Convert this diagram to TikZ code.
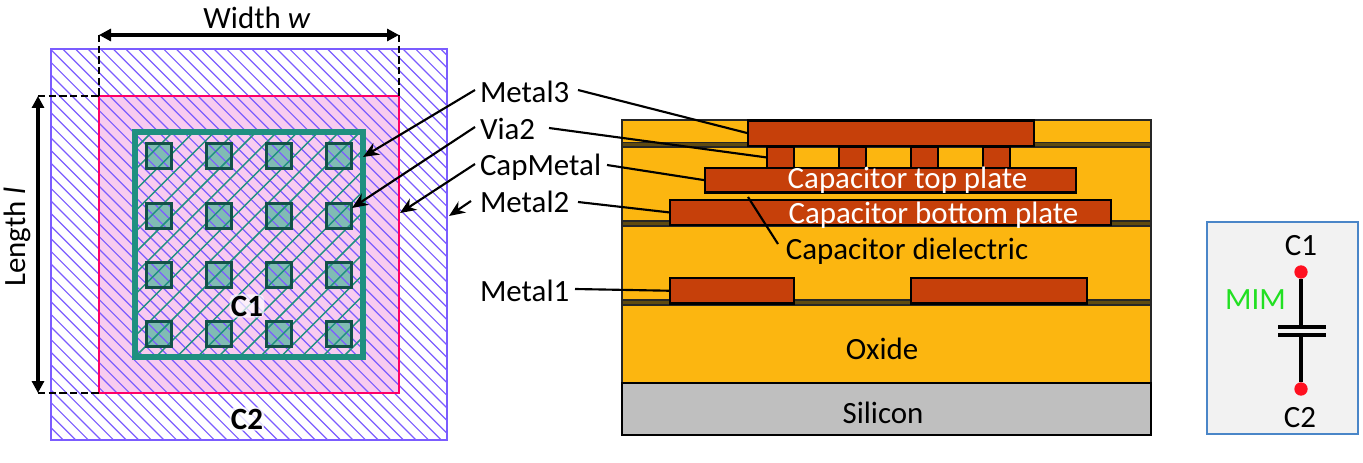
\documentclass[tikz,border=0pt]{standalone}
\usepackage{fontspec}
\setmainfont{Carlito}
\usetikzlibrary{arrows.meta,calc}
\definecolor{purp}{HTML}{7B5CFF}
\definecolor{pinkl}{HTML}{F8CCF0}
\definecolor{pinkd}{HTML}{FF0066}
\definecolor{grn}{HTML}{1F9080}
\definecolor{viaf}{HTML}{80BCB4}
\definecolor{viad}{HTML}{135248}
\definecolor{oxd}{HTML}{FCB610}
\definecolor{met}{HTML}{C6400A}
\definecolor{brn}{HTML}{5F4A10}
\definecolor{sil}{HTML}{BFBFBF}
\definecolor{boxb}{HTML}{4A86C8}
\definecolor{boxf}{HTML}{F2F2F2}
\definecolor{mimg}{HTML}{22E022}
\definecolor{dotr}{HTML}{FF1020}
\tikzset{
  txt/.style={font=\fontsize{23.2}{27}\selectfont,inner sep=0pt,outer sep=0pt,text=black,anchor=base},
  boldtxt/.style={txt,font=\fontsize{23.2}{27}\selectfont\bfseries},
  whitetxt/.style={txt,text=white},
  lab/.style={txt,anchor=base west},
  leader/.style={draw=black,line width=1.6pt},
  pointer/.style={leader,-{Stealth[length=12pt,width=10pt]}},
  dim/.style={draw=black,line width=3pt,{Triangle[length=9pt,width=9pt]}-{Triangle[length=9pt,width=9pt]}},
  dimext/.style={draw=black,line width=2pt,dash pattern=on 5.5pt off 2.5pt},
  layer/.style={draw=black!85,line width=1.5pt,fill=oxd},
  band/.style={draw=black!85,line width=1.2pt,fill=brn},
  metal/.style={draw=black,line width=1.6pt,fill=met,inner sep=0pt,outer sep=0pt},
  via/.style={draw=viad,line width=2pt},
  wire/.style={draw=black,line width=2.8pt},
}
\newcommand{\mrect}[5]{\path let \p1=(#2,#3), \p2=(#4,#5) in
  node[metal,anchor=north west,minimum width=\x2-\x1,minimum height=\y1-\y2] (#1) at (\p1) {};}
\begin{document}
\begin{tikzpicture}[x=0.75pt,y=-0.75pt]
\useasboundingbox (0,0) rectangle (1363,463);
% ---------- layout view
\fill[pinkl] (99,96) rectangle (399,393);
\foreach \x in {159,219,279,339}
  \foreach \y in {156,216,275,334}
    \fill[viaf] (\x-12.5,\y-12.5) rectangle (\x+12.5,\y+12.5);
\begin{scope}
  \clip (51,49) rectangle (447,440);
  \foreach \k in {-45,...,35}
    \draw[purp,line width=.9pt] ({102+12.6*\k},0) -- ({602+12.6*\k},500);
\end{scope}
\begin{scope}
  \clip (135,132) rectangle (363,357);
  \foreach \k in {0,...,22}
    \draw[grn,line width=1.1pt] ({284+20.8*\k},0) -- ({-216+20.8*\k},500);
\end{scope}
\draw[purp,line width=2.2pt] (51,49) rectangle (447,440);
\draw[pinkd,line width=2.2pt] (99,96) rectangle (399,393);
\draw[grn,line width=3.8pt] (135,132) rectangle (363,357);
\foreach \x in {159,219,279,339}
  \foreach \y in {156,216,275,334}
    \draw[via] (\x-12.5,\y-12.5) rectangle (\x+12.5,\y+12.5);
% dimension lines
\coordinate (wl) at (99,35);
\coordinate (wr) at (399,35);
\coordinate (wlb) at (99,96);
\coordinate (wrb) at (399,96);
\coordinate (lt) at (38,96);
\coordinate (lb) at (38,393);
\coordinate (ltb) at (99,96);
\coordinate (lbb) at (99,393);
\draw[dimext] (wl) -- (wlb);
\draw[dimext] (wr) -- (wrb);
\draw[dimext] (lt) -- (ltb);
\draw[dimext] (lb) -- (lbb);
\draw[dim] (wl) -- (wr);
\draw[dim] (lt) -- (lb);
\node[txt] (wlab) at (257,28.5) {Width \textit{w}};
\node[txt,rotate=90] (llab) at (25,237) {Length \textit{l}};
\node[boldtxt,fill=white,fill opacity=.7,text opacity=1,inner sep=1pt,rounded corners=4pt] (c1lab) at (247,316) {C1};
\node[boldtxt,fill=white,fill opacity=.8,text opacity=1,inner sep=1pt,rounded corners=4pt] (c2lab) at (247,429) {C2};
% ---------- cross section
\draw[layer] (622,120.5) rectangle (1151,383);
\draw[draw=black,line width=1.5pt,fill=sil] (622,383) rectangle (1151,435);
\draw[band] (622,142.5) rectangle (1151,147);
\draw[band] (622,221) rectangle (1151,226);
\draw[band] (622,300) rectangle (1151,305);
\mrect{mthree}{748}{120.5}{1034}{146}
\mrect{viaa}{767}{147}{794}{168}
\mrect{viab}{839}{147}{866}{168}
\mrect{viac}{911}{147}{938}{168}
\mrect{viad}{983}{147}{1010}{168}
\mrect{capm}{705}{168}{1076}{192.5}
\mrect{mtwo}{670}{200}{1111}{225}
\mrect{mone}{670}{278}{794}{303.5}
\mrect{monb}{911}{278}{1087}{303.5}
\node[whitetxt] (toptxt) at (907.5,188.5) {Capacitor top plate};
\node[whitetxt] (bottxt) at (933.5,223.5) {Capacitor bottom plate};
\node[txt] (dieltxt) at (907,260) {Capacitor dielectric};
\node[txt] (oxtxt) at (882,359) {Oxide};
\node[txt] (sitxt) at (883,423) {Silicon};
% labels
\node[lab] (lm3) at (480,103) {Metal3};
\node[lab] (lv2) at (480,139.5) {Via2};
\node[lab] (lcm) at (480,176) {CapMetal};
\node[lab] (lm2) at (480,213) {Metal2};
\node[lab] (lm1) at (480,301) {Metal1};
% connector ends on the layout
\coordinate (am3) at (363,157);
\coordinate (av2) at (352,208);
\coordinate (acm) at (400,213);
\coordinate (am2) at (449,216);
\coordinate (lm3r) at (578,90);
\coordinate (lv2r) at (549,128);
\coordinate (lcmr) at (607,165);
\coordinate (lm2r) at (578,202);
\coordinate (lm1r) at (575,289);
\coordinate (lm3l) at (475,90);
\coordinate (lv2l) at (475,127);
\coordinate (lcml) at (475,164);
\coordinate (lm2l) at (471,201);
\coordinate (dgap) at (748,197);
\coordinate (dend) at (778,244);
\draw[pointer] (lm3l) -- (am3);
\draw[pointer] (lv2l) -- (av2);
\draw[pointer] (lcml) -- (acm);
\draw[pointer] (lm2l) -- (am2);
\draw[leader] (lm3r) -- (mthree.west);
\draw[leader] (lv2r) -- (viaa.west);
\draw[leader] (lcmr) -- (capm.west);
\draw[leader] (lm2r) -- (mtwo.west);
\draw[leader] (lm1r) -- (mone.west);
\draw[leader] (dgap) -- (dend);
% ---------- symbol
\draw[draw=boxb,line width=1.6pt,fill=boxf] (1207,222) rectangle (1358,434);
\node[circle,fill=dotr,inner sep=0pt,minimum size=10pt] (dt) at (1301,272) {};
\node[circle,fill=dotr,inner sep=0pt,minimum size=10pt] (db) at (1301,389) {};
\coordinate (pt) at (1301,327);
\coordinate (pb) at (1301,335);
\coordinate (ptl) at (1278,327);
\coordinate (ptr) at (1326,327);
\coordinate (pbl) at (1278,335);
\coordinate (pbr) at (1326,335);
\draw[wire] (dt) -- (pt);
\draw[wire] (pb) -- (db);
\draw[wire] (ptl) -- (ptr);
\draw[wire] (pbl) -- (pbr);
\node[txt] (c1s) at (1301,256) {C1};
\node[txt] (c2s) at (1300,427) {C2};
\node[txt,text=mimg] (mim) at (1255.5,310) {MIM};
\end{tikzpicture}
\end{document}
